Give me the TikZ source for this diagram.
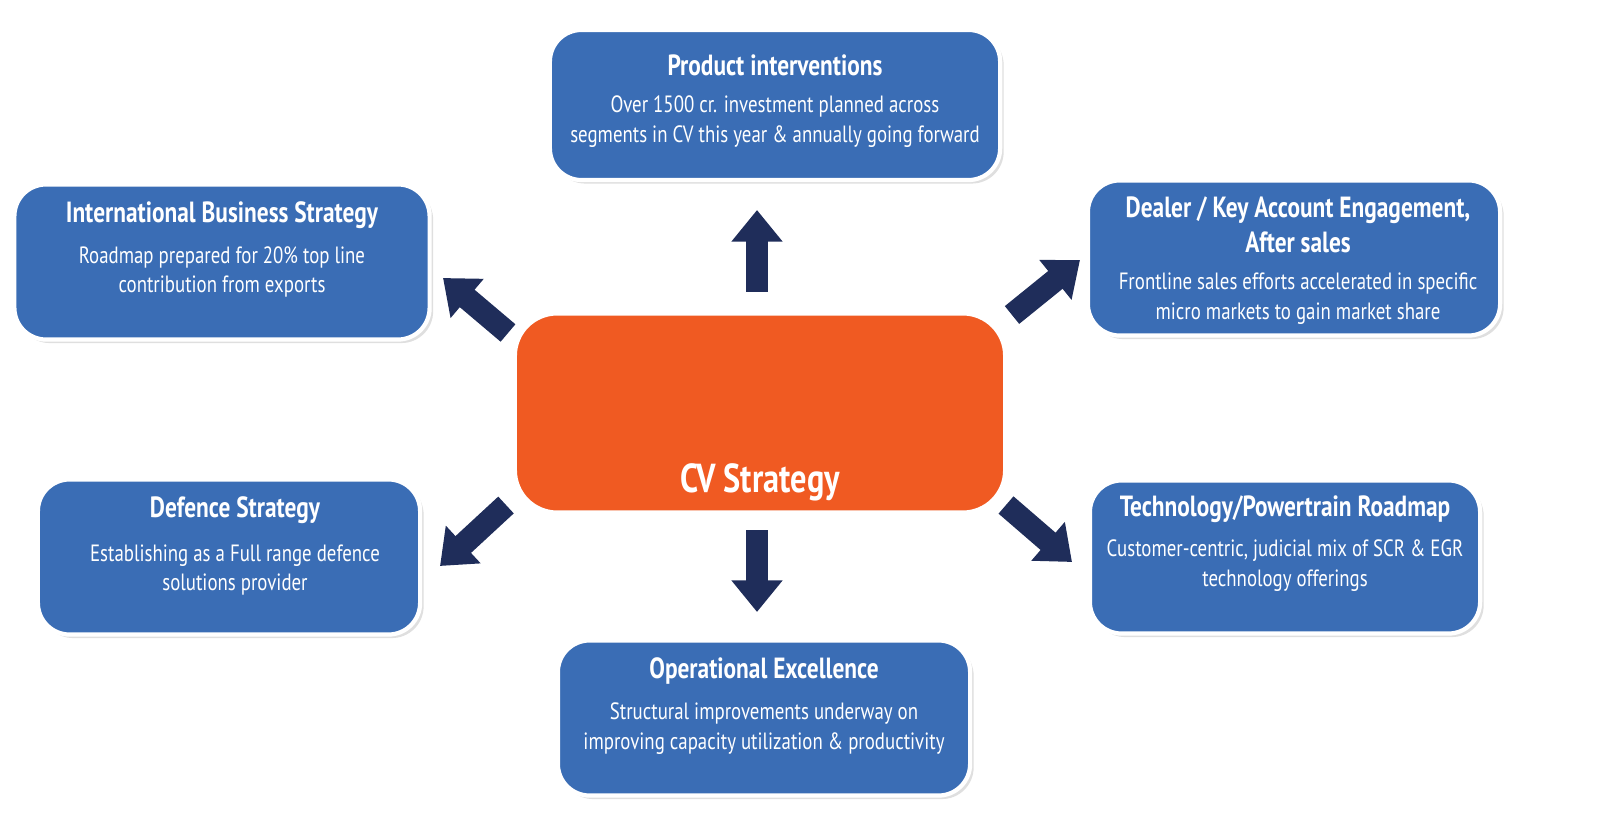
\documentclass[tikz,border=0pt]{standalone}
\usepackage{fontspec}
\setmainfont{PT Sans}[FakeStretch=0.8]
\usetikzlibrary{arrows.meta,shadows}
\definecolor{boxblue}{HTML}{3A6DB5}
\definecolor{cvorange}{HTML}{F05A22}
\definecolor{navy}{HTML}{1F2D5A}
\begin{document}
\begin{tikzpicture}[x=0.01cm,y=-0.01cm]
	\tikzstyle{sbox}=[draw=white,line width=1.2pt,fill=boxblue,rounded corners=9pt,drop shadow={opacity=0.25,shadow xshift=1pt,shadow yshift=-1pt},text=white,align=center,inner sep=0pt]
	\tikzstyle{btitle}=[font=\bfseries\fontsize{8.3}{10}\selectfont]
	\tikzstyle{btext}=[font=\fontsize{6.7}{8.5}\selectfont]
	\tikzstyle{bigarrow}=[navy,line width=6.5pt,-{Triangle[length=9pt,width=14pt]}]
	\useasboundingbox (0,0) rectangle (1607,831);
	% boxes
	\node[sbox,minimum width=4.50cm,minimum height=1.50cm] (prod) at (775,105) {};
	\node[sbox,minimum width=4.15cm,minimum height=1.55cm] (intl) at (222,262) {};
	\node[sbox,minimum width=4.12cm,minimum height=1.55cm] (deal) at (1294,258) {};
	\node[sbox,minimum width=3.82cm,minimum height=1.55cm] (def) at (229,557) {};
	\node[sbox,minimum width=3.90cm,minimum height=1.53cm] (tech) at (1285,557) {};
	\node[sbox,minimum width=4.12cm,minimum height=1.55cm] (oper) at (764,718) {};
	\node[draw=white,line width=1.2pt,fill=cvorange,rounded corners=12pt,minimum width=4.90cm,minimum height=1.99cm] (cv) at (760,413) {};
	% texts
	\node[btitle,text=white] (cv-t) at (760,482) {\fontsize{11.5}{13}\selectfont CV Strategy};
	\node[btitle,text=white] (prod-t) at (775,65) {Product interventions};
	\node[btext,text=white,align=center] (prod-b) at (775,122) {Over 1500 cr. investment planned across\\segments in CV this year \& annually going forward};
	\node[btitle,text=white] (intl-t) at (222,215) {International Business Strategy};
	\node[btext,text=white,align=center] (intl-b) at (222,272) {Roadmap prepared for 20\% top line\\contribution from exports};
	\node[btitle,text=white,align=center] (deal-t) at (1298,225) {Dealer / Key Account Engagement,\\After sales};
	\node[btext,text=white,align=center] (deal-b) at (1298,299) {Frontline sales efforts accelerated in specific\\micro markets to gain market share};
	\node[btitle,text=white] (def-t) at (235,510) {Defence Strategy};
	\node[btext,text=white,align=center] (def-b) at (235,570) {Establishing as a Full range defence\\solutions provider};
	\node[btitle,text=white] (tech-t) at (1285,509) {Technology/Powertrain Roadmap};
	\node[btext,text=white,align=center] (tech-b) at (1285,566) {Customer-centric, judicial mix of SCR \& EGR\\technology offerings};
	\node[btitle,text=white] (oper-t) at (764,671) {Operational Excellence};
	\node[btext,text=white,align=center] (oper-b) at (764,729) {Structural improvements underway on\\improving capacity utilization \& productivity};
	% arrows
	\coordinate (a1) at (757,292); \coordinate (a1e) at (757,210);
	\coordinate (a2) at (757,530); \coordinate (a2e) at (757,612);
	\coordinate (a3) at (508,333); \coordinate (a3e) at (443,278);
	\coordinate (a4) at (1012,315); \coordinate (a4e) at (1080,260);
	\coordinate (a5) at (506,505); \coordinate (a5e) at (440,566);
	\coordinate (a6) at (1006,505); \coordinate (a6e) at (1072,562);
	\foreach \s/\e in {a1/a1e,a2/a2e,a3/a3e,a4/a4e,a5/a5e,a6/a6e}
		\draw[bigarrow] (\s) -- (\e);
\end{tikzpicture}
\end{document}
